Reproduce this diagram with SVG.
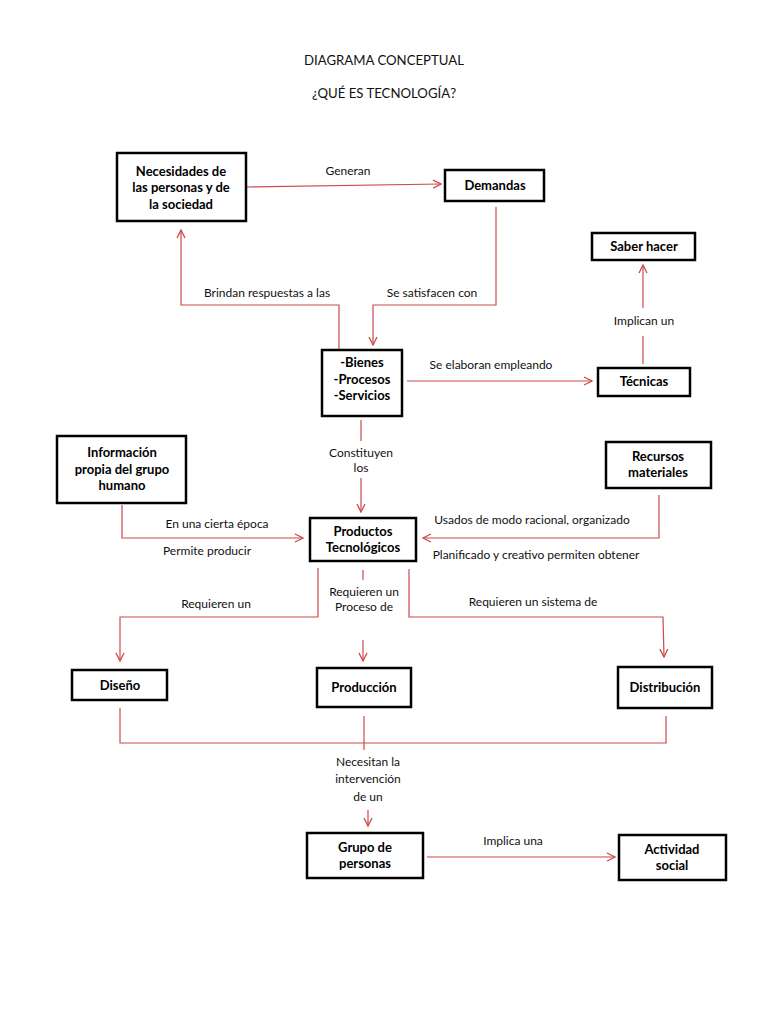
<svg xmlns="http://www.w3.org/2000/svg" width="768" height="1024" viewBox="0 0 768 1024">
<style>
.box{fill:#fff;stroke:#000;stroke-width:2.5}
.nt{font-family:Lato,"Open Sans",sans-serif;font-weight:bold;font-size:13px;fill:#000;text-anchor:middle}
.lb{font-family:Lato,"Open Sans",sans-serif;font-size:12px;fill:#111;text-anchor:middle}
.tt{font-family:Lato,"Open Sans",sans-serif;font-size:13.2px;fill:#111;text-anchor:middle}
.c{fill:none;stroke:#cc4a4a;stroke-width:1.2}
</style>
<defs>
<marker id="ah" viewBox="0 0 10 10" refX="9" refY="5" markerWidth="10" markerHeight="10" markerUnits="userSpaceOnUse" orient="auto">
<path d="M1,1 L9,5 L1,9" fill="none" stroke="#cc4a4a" stroke-width="1.3"/>
</marker>
</defs>
<rect width="768" height="1024" fill="#fff"/>
<text class="tt" x="384" y="65">DIAGRAMA CONCEPTUAL</text>
<text class="tt" x="384" y="98">¿QUÉ ES TECNOLOGÍA?</text>

<g id="connectors">
<path class="c" d="M246,187 L441,184" marker-end="url(#ah)"/>
<path class="c" d="M496,207 V305 H373 V345" marker-end="url(#ah)"/>
<path class="c" d="M339,350 V305 H181 V230" marker-end="url(#ah)"/>
<path class="c" d="M407,381 H592" marker-end="url(#ah)"/>
<path class="c" d="M643,364 V336"/>
<path class="c" d="M643,308 V265" marker-end="url(#ah)"/>
<path class="c" d="M361,420 V441"/>
<path class="c" d="M361,478 V512" marker-end="url(#ah)"/>
<path class="c" d="M122,505 V538 H303" marker-end="url(#ah)"/>
<path class="c" d="M659,495 V538 H423" marker-end="url(#ah)"/>
<path class="c" d="M318,568 V617 H120 V661" marker-end="url(#ah)"/>
<path class="c" d="M363,570 V580"/>
<path class="c" d="M363,640 V661" marker-end="url(#ah)"/>
<path class="c" d="M409,569 V617 H663 L664,657" marker-end="url(#ah)"/>
<path class="c" d="M120,708 V743 H666 V716"/>
<path class="c" d="M364,716 V750"/>
<path class="c" d="M368,810 V826" marker-end="url(#ah)"/>
<path class="c" d="M427,857 H615" marker-end="url(#ah)"/>
<text class="lb" x="348" y="175">Generan</text>
<text class="lb" x="432" y="297">Se satisfacen con</text>
<text class="lb" x="267" y="297">Brindan respuestas a las</text>
<text class="lb" x="491" y="369">Se elaboran empleando</text>
<text class="lb" x="644" y="325">Implican un</text>
<text class="lb" x="361" y="457">Constituyen</text>
<text class="lb" x="361" y="472">los</text>
<text class="lb" x="217" y="528">En una cierta época</text>
<text class="lb" x="207" y="555">Permite producir</text>
<text class="lb" x="532" y="524">Usados de modo racional, organizado</text>
<text class="lb" x="536" y="559">Planificado y creativo permiten obtener</text>
<text class="lb" x="216" y="608">Requieren un</text>
<text class="lb" x="364" y="596">Requieren un</text>
<text class="lb" x="364" y="611">Proceso de</text>
<text class="lb" x="533" y="606">Requieren un sistema de</text>
<text class="lb" x="368" y="766">Necesitan la</text>
<text class="lb" x="368" y="783">intervención</text>
<text class="lb" x="368" y="801">de un</text>
<text class="lb" x="513" y="845">Implica una</text>
</g>

<g id="necesidades"><rect class="box" x="117" y="153" width="129" height="68"/>
<text class="nt" x="181" y="176">Necesidades de</text><text class="nt" x="181" y="192">las personas y de</text><text class="nt" x="181" y="209">la sociedad</text></g>
<g id="demandas"><rect class="box" x="445" y="170" width="99" height="31"/><text class="nt" x="495" y="190">Demandas</text></g>
<g id="saber"><rect class="box" x="592" y="233" width="103" height="27"/><text class="nt" x="644" y="251">Saber hacer</text></g>
<g id="bienes"><rect class="box" x="322" y="350" width="80" height="66"/>
<text class="nt" x="362" y="367">-Bienes</text><text class="nt" x="362" y="384">-Procesos</text><text class="nt" x="362" y="400">-Servicios</text></g>
<g id="tecnicas"><rect class="box" x="598" y="368" width="92" height="28"/><text class="nt" x="644" y="386">Técnicas</text></g>
<g id="informacion"><rect class="box" x="57" y="436" width="129" height="67"/>
<text class="nt" x="122" y="457">Información</text><text class="nt" x="122" y="474">propia del grupo</text><text class="nt" x="122" y="490">humano</text></g>
<g id="recursos"><rect class="box" x="606" y="442" width="105" height="46"/>
<text class="nt" x="658" y="461">Recursos</text><text class="nt" x="658" y="477">materiales</text></g>
<g id="productos"><rect class="box" x="310" y="518" width="106" height="43"/>
<text class="nt" x="363" y="536">Productos</text><text class="nt" x="363" y="552">Tecnológicos</text></g>
<g id="diseno"><rect class="box" x="72" y="670" width="95" height="30"/><text class="nt" x="120" y="690">Diseño</text></g>
<g id="produccion"><rect class="box" x="317" y="668" width="94" height="39"/><text class="nt" x="364" y="692">Producción</text></g>
<g id="distribucion"><rect class="box" x="618" y="667" width="94" height="41"/><text class="nt" x="665" y="692">Distribución</text></g>
<g id="grupo"><rect class="box" x="307" y="833" width="116" height="45"/>
<text class="nt" x="365" y="852">Grupo de</text><text class="nt" x="365" y="868">personas</text></g>
<g id="actividad"><rect class="box" x="619" y="835" width="107" height="45"/>
<text class="nt" x="672" y="854">Actividad</text><text class="nt" x="672" y="870">social</text></g>
</svg>
